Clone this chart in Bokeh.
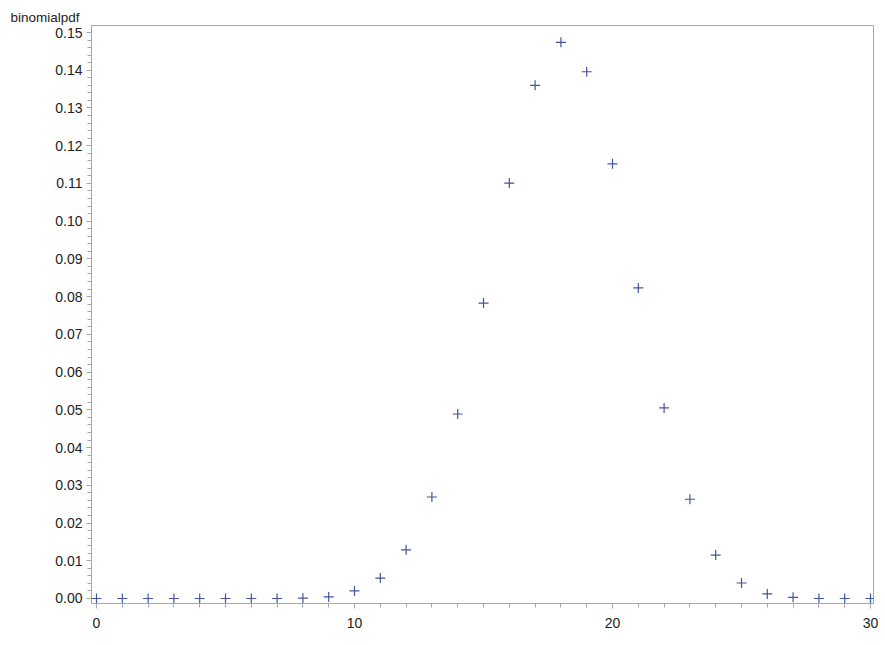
from bokeh.plotting import figure
from bokeh.models import Range1d, NumeralTickFormatter, FixedTicker
from bokeh.embed import file_html
from bokeh.resources import INLINE

# data
x_vals = list(range(0, 31))
pdf_vals = [0.0000, 0.0000, 0.0000, 0.0000, 0.0000, 0.0000, 0.0000, 0.0000,
            0.0001, 0.0004, 0.0020, 0.0054, 0.0129, 0.0269, 0.0489, 0.0783,
            0.1101, 0.1360, 0.1474, 0.1396, 0.1152, 0.0823, 0.0505, 0.0263,
            0.0115, 0.0041, 0.0012, 0.0003, 0.0000, 0.0000, 0.0000]
x_major = [0, 10, 20, 30]
x_minor = list(range(0, 31))
y_major = [round(i * 0.01, 2) for i in range(16)]
y_minor = [round(i * 0.002, 3) for i in range(76)]
y_label = "binomialpdf"

FONT = "Liberation Sans"
W, H = 883, 643
FL, FT, FR, FB = 91, 25, 873, 603

p = figure(width=W, height=H, output_backend="svg", toolbar_location=None,
           x_range=Range1d(-0.194, 30.116), y_range=Range1d(-0.00133, 0.15186),
           min_border_left=FL, min_border_right=W - FR,
           min_border_top=FT, min_border_bottom=H - FB)

p.background_fill_color = "white"
p.border_fill_color = "white"
p.outline_line_color = "#a8a8a8"
p.outline_line_width = 1
p.grid.visible = False

p.title.text = y_label
p.title.align = "left"
p.title.offset = -(FL - 10)
p.title.standoff = 2
p.title.text_font = FONT
p.title.text_font_size = "13.5px"
p.title.text_font_style = "normal"
p.title.text_color = "#222222"

p.scatter(x_vals, pdf_vals, marker="cross", size=10, line_color="#4355a0",
          line_width=1.2)

xa = p.xaxis[0]
xa.ticker = FixedTicker(ticks=x_major, minor_ticks=x_minor)
ya = p.yaxis[0]
ya.ticker = FixedTicker(ticks=y_major, minor_ticks=y_minor)
ya.formatter = NumeralTickFormatter(format="0.00")

for ax in (xa, ya):
    ax.axis_line_color = "#a8a8a8"
    ax.major_tick_line_color = "#a8a8a8"
    ax.minor_tick_line_color = "#a8a8a8"
    ax.major_tick_in = 0
    ax.major_tick_out = 5
    ax.minor_tick_in = 0
    ax.minor_tick_out = 4
    ax.major_label_text_font = FONT
    ax.major_label_text_font_size = "14px"
    ax.major_label_text_color = "#222222"
xa.major_label_standoff = 9
ya.major_label_standoff = 4

open("out.html", "w").write(file_html(p, INLINE))
